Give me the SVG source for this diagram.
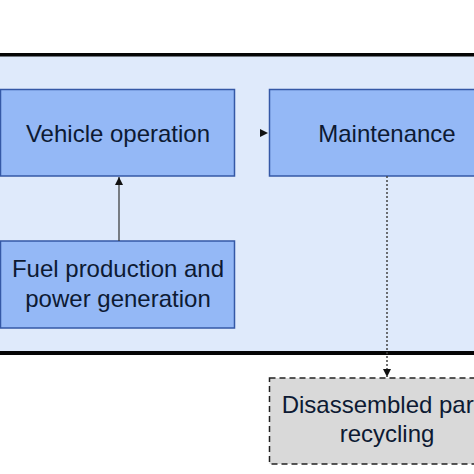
<svg xmlns="http://www.w3.org/2000/svg" width="474" height="474" viewBox="0 0 474 474">
<style>
.box{fill:#94b8f6;stroke:#3458a6;stroke-width:1.5}
.gray{fill:#d9d9d9;stroke:#222;stroke-width:1.5;stroke-dasharray:6 4}
.t{font-family:"Liberation Sans",Arial,sans-serif;font-size:24px;fill:#0d1a33;text-anchor:middle}
.bar{fill:#050505}
</style>
<defs>
<marker id="ah" viewBox="0 0 10 10" refX="10" refY="5" markerWidth="8" markerHeight="8" markerUnits="userSpaceOnUse" orient="auto">
<path d="M0,0 L10,5 L0,10 z" fill="#111"/>
</marker>
</defs>
<rect width="474" height="474" fill="#ffffff"/>
<rect id="band" x="0" y="55" width="474" height="298" fill="#dfeafb"/>
<rect class="bar" x="0" y="53" width="474" height="3.5"/>
<rect class="bar" x="0" y="351" width="474" height="4"/>
<g id="vehicle">
<rect class="box" x="0.5" y="89.5" width="234" height="86.5"/>
<text class="t" x="118" y="142">Vehicle operation</text>
</g>
<g id="maintenance">
<rect class="box" x="269.5" y="89.5" width="236" height="86.5"/>
<text class="t" x="387" y="142">Maintenance</text>
</g>
<g id="fuel">
<rect class="box" x="0.5" y="241" width="234" height="87"/>
<text class="t" x="118" y="277">Fuel production and</text>
<text class="t" x="118" y="307">power generation</text>
</g>
<g id="recycling">
<rect class="gray" x="269.5" y="378" width="236" height="86"/>
<text class="t" x="387" y="413">Disassembled parts</text>
<text class="t" x="387" y="442">recycling</text>
</g>
<g id="connectors">
<line x1="119" y1="241" x2="119" y2="177" stroke="#333" stroke-width="1.2" marker-end="url(#ah)"/>
<line x1="266" y1="133" x2="268" y2="133" stroke="none" marker-end="url(#ah)"/>
<line x1="387" y1="176" x2="387" y2="377" stroke="#444" stroke-width="1.5" stroke-dasharray="2 2" marker-end="url(#ah)"/>
</g>
</svg>
